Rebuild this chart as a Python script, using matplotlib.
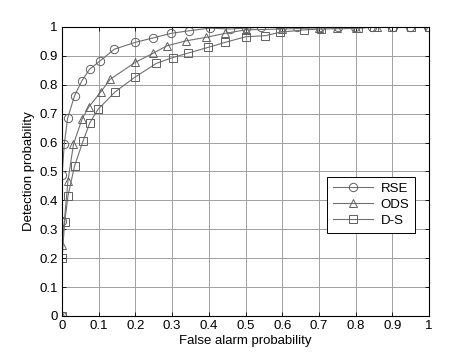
import numpy as np
import matplotlib.pyplot as plt

plt.rcParams['font.family'] = ['Liberation Sans', 'DejaVu Sans']

# RSE (circles)
rse_x = [0, 0, 0, 0.006, 0.015, 0.034, 0.054, 0.075, 0.104, 0.142, 0.2, 0.248,
         0.297, 0.347, 0.402, 0.458, 0.5, 0.542, 0.6, 0.64, 0.704, 0.753,
         0.799, 0.844, 0.902, 0.949, 0.998]
rse_y = [0, 0.33, 0.487, 0.595, 0.684, 0.762, 0.814, 0.854, 0.883, 0.923, 0.947, 0.962,
         0.978, 0.987, 0.996, 0.993, 0.996, 0.999, 1.0, 1.0, 1.0, 1.0,
         1.0, 1.0, 1.0, 1.0, 1.0]

# ODS (triangles)
ods_x = [0, 0, 0.016, 0.031, 0.054, 0.072, 0.106, 0.131, 0.2, 0.248, 0.286,
         0.338, 0.392, 0.445, 0.5, 0.6, 0.7, 0.75, 0.8, 0.857, 1.0]
ods_y = [0, 0.244, 0.467, 0.594, 0.68, 0.722, 0.776, 0.819, 0.878, 0.909, 0.935,
         0.952, 0.964, 0.978, 0.99, 0.993, 0.997, 0.997, 0.998, 1.0, 1.0]

# D-S (squares)
ds_x = [0, 0, 0.007, 0.016, 0.034, 0.057, 0.075, 0.098, 0.145, 0.198, 0.257,
        0.301, 0.342, 0.397, 0.445, 0.5, 0.554, 0.595, 0.66, 0.706, 0.806,
        0.85, 0.9, 0.95, 1.0]
ds_y = [0, 0.2, 0.324, 0.415, 0.519, 0.605, 0.667, 0.715, 0.776, 0.826, 0.874,
        0.894, 0.909, 0.929, 0.947, 0.966, 0.97, 0.982, 0.99, 0.993, 0.995,
        1.0, 1.0, 1.0, 1.0]

fig = plt.figure(figsize=(4.74, 3.55), dpi=100)
ax = fig.add_axes([0.131, 0.110, 0.774, 0.814])

kw = dict(color='#707070', lw=0.8, mfc='none', mec='#606060', mew=0.7, ms=6)
ax.plot(rse_x, rse_y, marker='o', label='RSE', **kw)
ax.plot(ods_x, ods_y, marker='^', label='ODS', **kw)
ax.plot(ds_x, ds_y, marker='s', label='D-S', **kw)

ax.set_xlim(0, 1)
ax.set_ylim(0, 1)
ax.set_xticks(np.arange(0, 1.01, 0.1))
ax.set_yticks(np.arange(0, 1.01, 0.1))
ax.set_xticklabels(['0', '0.1', '0.2', '0.3', '0.4', '0.5', '0.6', '0.7', '0.8', '0.9', '1'])
ax.set_yticklabels(['0', '0.1', '0.2', '0.3', '0.4', '0.5', '0.6', '0.7', '0.8', '0.9', '1'])
ax.tick_params(direction='in', top=True, right=True, labelsize=9.5, length=3, width=0.6, pad=3)
ax.grid(True, color='#a0a0a0', lw=0.7)
for s in ax.spines.values():
    s.set_linewidth(0.8)

ax.set_xlabel('False alarm probability', fontsize=9.5, labelpad=2)
ax.set_ylabel('Detection probability', fontsize=9.5, labelpad=3)

leg = ax.legend(loc='lower left', bbox_to_anchor=(0.723, 0.287), borderaxespad=0,
                fancybox=False, edgecolor='black', framealpha=1, fontsize=9.5,
                handlelength=3, borderpad=0.45, labelspacing=0.3, handletextpad=0.6)
leg.get_frame().set_linewidth(0.7)

fig.savefig('out.png', dpi=100)
